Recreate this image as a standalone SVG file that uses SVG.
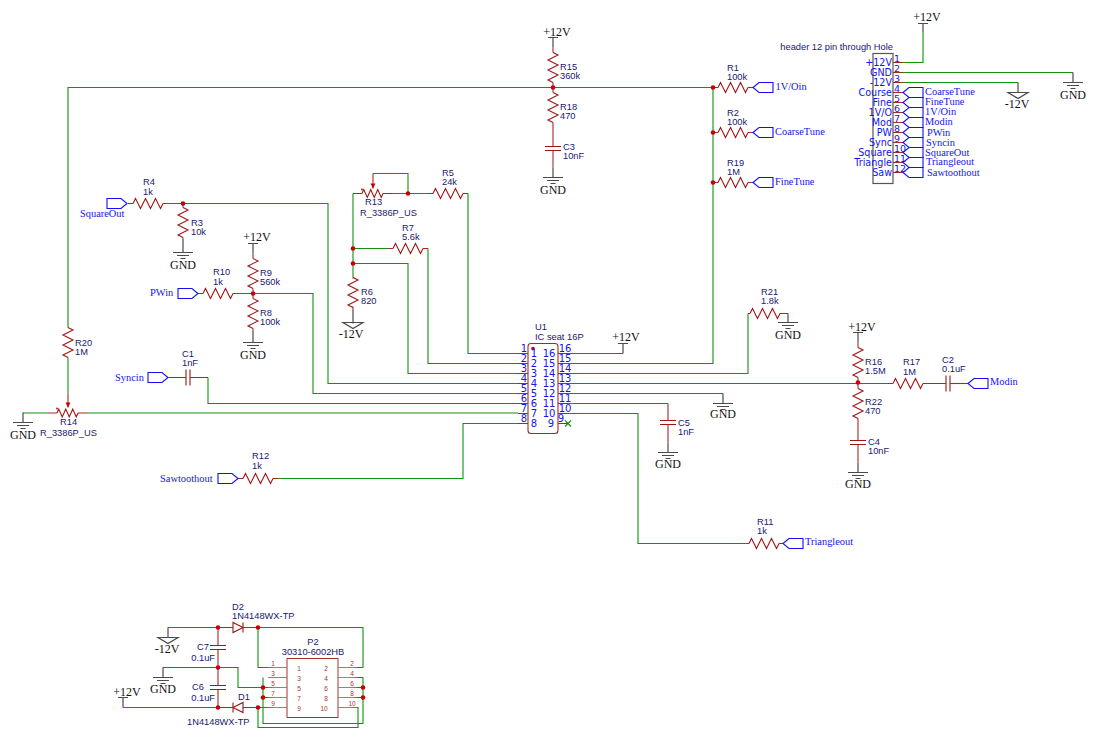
<svg xmlns="http://www.w3.org/2000/svg" xmlns:xlink="http://www.w3.org/1999/xlink" width="1096" height="738" viewBox="0 0 1096 738">
<style>
text{font-family:"Liberation Sans",Arial,sans-serif;transform:translateY(-.8px)}
.w{fill:none;stroke:#0f930f;stroke-width:1.1}
.l{fill:none;stroke:#a82828;stroke-width:1.1}
.z{fill:none;stroke:#a01414;stroke-width:1.1}
.k{fill:none;stroke:#4a4a4a;stroke-width:1.2}
.d{fill:#c80000;stroke:none}
.b{fill:none;stroke:#1010f0;stroke-width:1.1}
.t{font-size:9.300px;fill:#181870}
.s{font-family:"Liberation Serif","Times New Roman",serif;font-size:10.400px;fill:#1414f0}
.n{font-family:"Liberation Serif","Times New Roman",serif;font-size:12px;fill:#111;text-anchor:middle}
.u{font-family:"DejaVu Sans",sans-serif;font-size:10px;fill:#1414f0;text-anchor:middle}
.e{font-family:"DejaVu Sans",sans-serif;font-size:9.600px;fill:#1414f0;text-anchor:end}
.h{font-family:"DejaVu Sans",sans-serif;font-size:9.500px;fill:#1414f0}
.pn{font-size:6.500px;fill:#a83232;text-anchor:middle}
</style>
<defs>
<path id="rh" class="z" d="M0 0l2.500-5 5 10 5-10 5 10 5-10 5 10 2.500-5"/>
<path id="rv" class="z" d="M0 0l5 2.500-10 5 10 5-10 5 10 5-10 5 5 2.500"/>
<path id="rp" class="z" d="M0 0l1.750-4 3.500 8 3.500-8 3.500 8 3.500-8 3.500 8 1.750-4"/>
<g id="gnd"><path class="k" d="M-10 0h20M-6 3h12M-2.500 6h5"/></g>
<g id="vee"><path class="k" d="M-10 0h20l-10 6z"/></g>
<path id="pr" class="b" d="M0-5h14l6 5-6 5h-14z"/>
<path id="pl" class="b" d="M0 0l6-5h14v10h-14z"/>
<circle id="j" class="d" r="2.300"/>
<path id="cv" class="z" d="M-8 0h16M-8 4h16"/>
<path id="ch" class="z" d="M0-8v16M4-8v16"/>
</defs>

<g transform="translate(0 .5)">
<g id="connectors">
<path class="w" d="M68 327V87H713M713 87V363H568"/>
<path class="w" d="M68 357V393"/>
<path class="w" d="M23 412H48M87 412H518" transform="translate(0 .5)"/>
<path class="w" d="M167 203H328V383H518"/>
<path class="w" d="M236 293H313V393H518"/>
<path class="w" d="M208 377V403H518"/>
<path class="w" d="M278 478H463V423H518"/>
<path class="w" d="M518 353H468V193M393 193H428"/>
<path class="w" d="M373 173H408V193"/>
<path class="w" d="M353 193V277"/>
<path class="w" d="M353 248H388M428 248V363H518"/>
<path class="w" d="M353 263H408V373H518"/>
<path class="w" d="M568 353H623"/>
<path class="w" d="M568 373H748V313"/>
<path class="w" d="M568 383H888"/>
<path class="w" d="M568 393H723"/>
<path class="w" d="M568 403H668"/>
<path class="w" d="M568 413H638V543H748"/>
<path class="w" d="M565 420l6 6M571 420l-6 6"/>
<path class="w" d="M903 62H923V32"/>
<path class="w" d="M903 72H1073"/>
<path class="w" d="M903 82H1018"/>
<path class="w" d="M168 627H228M243 627H363V667H354M258 627V667H273"/>
<path class="w" d="M163 667H238V687H273M263 677V723H363V677H354M263 697H273M354 687H363M354 697H363"/>
<path class="w" d="M123 707H228M243 707H273M258 707V727H358V707H352"/>
</g>

<g id="U1">
<rect x="528" y="343" width="30" height="90" rx="3" fill="none" stroke="#a82828" stroke-width="1.1"/>
<circle class="d" cx="533" cy="348" r="1.800"/>
<path class="l" d="M518 353h10M518 363h10M518 373h10M518 383h10M518 393h10M518 403h10M518 413h10M518 423h10M558 353h10M558 363h10M558 373h10M558 383h10M558 393h10M558 403h10M558 413h10M558 423h10"/>
<text class="t" x="535" y="330">U1</text><text class="t" x="535" y="340">IC seat 16P</text>
<text class="u" x="524" y="352">1</text><text class="u" x="524" y="362">2</text><text class="u" x="524" y="372">3</text><text class="u" x="524" y="382">4</text><text class="u" x="524" y="392">5</text><text class="u" x="524" y="402">6</text><text class="u" x="524" y="412">7</text><text class="u" x="524" y="422">8</text>
<text class="u" x="534" y="357">1</text><text class="u" x="534" y="367">2</text><text class="u" x="534" y="377">3</text><text class="u" x="534" y="387">4</text><text class="u" x="534" y="397">5</text><text class="u" x="534" y="407">6</text><text class="u" x="534" y="417">7</text><text class="u" x="534" y="427">8</text>
<text class="u" x="549" y="357">16</text><text class="u" x="549" y="367">15</text><text class="u" x="549" y="377">14</text><text class="u" x="549" y="387">13</text><text class="u" x="549" y="397">12</text><text class="u" x="549" y="407">11</text><text class="u" x="549" y="417">10</text><text class="u" x="551" y="427">9</text>
<text class="u" x="565" y="352">16</text><text class="u" x="565" y="362">15</text><text class="u" x="565" y="372">14</text><text class="u" x="565" y="382">13</text><text class="u" x="565" y="392">12</text><text class="u" x="565" y="402">11</text><text class="u" x="565" y="412">10</text><text class="u" x="561" y="422">9</text>
</g>

<g id="J1">
<rect x="873" y="53" width="20" height="130" fill="none" stroke="#555" stroke-width="1.2"/>
<path class="l" d="M893 62h10M893 72h10M893 82h10M893 92h10M893 102h10M893 112h10M893 122h10M893 132h10M893 142h10M893 152h10M893 162h10M893 172h10"/>
<text class="t" x="893" y="50" text-anchor="end">header 12 pin through Hole</text>
<text class="e" x="892" y="66">+12V</text><text class="e" x="892" y="76">GND</text><text class="e" x="892" y="86">-12V</text><text class="e" x="892" y="96">Course</text><text class="e" x="892" y="106">Fine</text><text class="e" x="892" y="116">1V/O</text><text class="e" x="892" y="126">Mod</text><text class="e" x="892" y="136">PW</text><text class="e" x="892" y="146">Sync</text><text class="e" x="892" y="156">Square</text><text class="e" x="892" y="166">Triangle</text><text class="e" x="892" y="176">Saw</text>
<text class="h" x="894" y="62">1</text><text class="h" x="894" y="72">2</text><text class="h" x="894" y="82">3</text><text class="h" x="894" y="92">4</text><text class="h" x="894" y="102">5</text><text class="h" x="894" y="112">6</text><text class="h" x="894" y="122">7</text><text class="h" x="894" y="132">8</text><text class="h" x="894" y="142">9</text><text class="h" x="894" y="152">10</text><text class="h" x="894" y="162">11</text><text class="h" x="894" y="172">12</text>
<use xlink:href="#pl" x="903" y="92"/><use xlink:href="#pl" x="903" y="102"/><use xlink:href="#pl" x="903" y="112"/><use xlink:href="#pl" x="903" y="122"/><use xlink:href="#pl" x="903" y="132"/><use xlink:href="#pl" x="903" y="142"/><use xlink:href="#pl" x="903" y="152"/><use xlink:href="#pl" x="903" y="162"/><use xlink:href="#pl" x="903" y="172"/>
<text class="s" x="925" y="95">CoarseTune</text><text class="s" x="925" y="105">FineTune</text><text class="s" x="925" y="115">1V/Oin</text><text class="s" x="925" y="125">Modin</text><text class="s" x="927" y="136">PWin</text><text class="s" x="926" y="146">Syncin</text><text class="s" x="925" y="156">SquareOut</text><text class="s" x="926" y="165">Triangleout</text><text class="s" x="927" y="176">Sawtoothout</text>
</g>

<g id="PWR">
<path class="k" d="M923 32V23M918 23h10"/><text class="n" x="927" y="21">+12V</text>
<path class="k" d="M1073 72V82"/><use xlink:href="#gnd" x="1073" y="82"/><text class="n" x="1073" y="99">GND</text>
<path class="k" d="M1018 82V92"/><use xlink:href="#vee" x="1018" y="92"/><text class="n" x="1017" y="108">-12V</text>
<path class="k" d="M553 47V37M548 37h10"/><text class="n" x="557" y="36">+12V</text>
<path class="k" d="M553 167V177"/><use xlink:href="#gnd" x="553" y="177"/><text class="n" x="553" y="194">GND</text>
<path class="k" d="M183 238V252"/><use xlink:href="#gnd" x="183" y="252"/><text class="n" x="183" y="269">GND</text>
<path class="k" d="M253 253V243M248 243h10"/><text class="n" x="257" y="241">+12V</text>
<path class="k" d="M253 330V342"/><use xlink:href="#gnd" x="253" y="342"/><text class="n" x="253" y="359">GND</text>
<path class="k" d="M353 308V323"/><use xlink:href="#vee" x="353" y="322"/><text class="n" x="351" y="338">-12V</text>
<path class="k" d="M23 412V422"/><use xlink:href="#gnd" x="23" y="422"/><text class="n" x="23" y="439">GND</text>
<path class="k" d="M623 353V343M618 343h10"/><text class="n" x="626" y="341">+12V</text>
<path class="k" d="M723 393V403"/><use xlink:href="#gnd" x="723" y="403"/><text class="n" x="723" y="418">GND</text>
<path class="k" d="M668 442V452"/><use xlink:href="#gnd" x="668" y="452"/><text class="n" x="668" y="468">GND</text>
<path class="k" d="M788 313V322"/><use xlink:href="#gnd" x="788" y="322"/><text class="n" x="788" y="339">GND</text>
<path class="k" d="M858 342V332M853 332h10"/><text class="n" x="862" y="331">+12V</text>
<path class="k" d="M858 462V472"/><use xlink:href="#gnd" x="858" y="472"/><text class="n" x="858" y="488">GND</text>
<path class="k" d="M168 627V637"/><use xlink:href="#vee" x="168" y="637"/><text class="n" x="167" y="653">-12V</text>
<path class="k" d="M163 667V677"/><use xlink:href="#gnd" x="163" y="677"/><text class="n" x="163" y="693">GND</text>
<path class="k" d="M123 707V697M118 697h10"/><text class="n" x="127" y="696">+12V</text>
</g>

<g id="R15"><path class="l" d="M553 47v5M553 82v5"/><use xlink:href="#rv" x="553" y="52"/><text class="t" x="560" y="70">R15</text><text class="t" x="560" y="79">360k</text></g>
<g id="R18"><path class="l" d="M553 87v5M553 122v24"/><use xlink:href="#rv" x="553" y="92"/><text class="t" x="560" y="110">R18</text><text class="t" x="560" y="119">470</text></g>
<g id="C3"><path class="l" d="M553 150v17"/><use xlink:href="#cv" x="553" y="146"/><text class="t" x="563" y="150">C3</text><text class="t" x="563" y="159">10nF</text></g>
<g id="R1"><path class="l" d="M713 87h5M748 87h5"/><use xlink:href="#rh" x="718" y="87"/><text class="t" x="727" y="71">R1</text><text class="t" x="727" y="80">100k</text><use xlink:href="#pl" x="753" y="87"/><text class="s" x="775.500" y="90">1V/Oin</text></g>
<g id="R2"><path class="l" d="M713 132h5M748 132h5"/><use xlink:href="#rh" x="718" y="132"/><text class="t" x="727" y="116">R2</text><text class="t" x="727" y="125">100k</text><use xlink:href="#pl" x="753" y="132"/><text class="s" x="775" y="135">CoarseTune</text></g>
<g id="R19"><path class="l" d="M713 182h5M748 182h5"/><use xlink:href="#rh" x="718" y="182"/><text class="t" x="727" y="166">R19</text><text class="t" x="727" y="175">1M</text><use xlink:href="#pl" x="753" y="182"/><text class="s" x="775" y="185">FineTune</text></g>
<g id="R4"><path class="l" d="M128 203h5M163 203h4"/><use xlink:href="#rh" x="133" y="203"/><text class="t" x="143" y="185">R4</text><text class="t" x="143" y="195">1k</text><use xlink:href="#pr" x="107" y="203"/><text class="s" x="80" y="217">SquareOut</text></g>
<g id="R3"><path class="l" d="M183 203v4M183 237v1"/><use xlink:href="#rv" x="183" y="207"/><text class="t" x="191" y="226">R3</text><text class="t" x="191" y="235">10k</text></g>
<g id="R10"><path class="l" d="M198 293h5M233 293h3"/><use xlink:href="#rh" x="203" y="293"/><text class="t" x="213" y="275">R10</text><text class="t" x="213" y="285">1k</text><use xlink:href="#pr" x="178" y="293"/><text class="s" x="150" y="296">PWin</text></g>
<g id="R9"><path class="l" d="M253 253v5M253 288v5"/><use xlink:href="#rv" x="253" y="258"/><text class="t" x="260" y="276">R9</text><text class="t" x="260" y="285">560k</text></g>
<g id="R8"><path class="l" d="M253 293v5M253 328v2"/><use xlink:href="#rv" x="253" y="298"/><text class="t" x="260" y="316">R8</text><text class="t" x="260" y="325">100k</text></g>
<g id="R20"><use xlink:href="#rv" x="68" y="327"/><path class="l" d="M68 393v14"/><path class="d" d="M65.500 402h5l-2.500 5z"/><text class="t" x="75" y="346">R20</text><text class="t" x="75" y="355">1M</text></g>
<g id="R14"><path class="l" d="M48 412.500h9M78 412.500h9"/><use xlink:href="#rp" x="57" y="412.500"/><circle class="d" cx="57" cy="408" r=".9"/><text class="t" x="60" y="425">R14</text><text class="t" x="40" y="436">R_3386P_US</text></g>
<g id="C1"><use xlink:href="#pr" x="148" y="377"/><text class="s" x="115" y="381">Syncin</text><path class="l" d="M168 377h18M190 377h18"/><use xlink:href="#ch" x="186" y="377"/><text class="t" x="182" y="357">C1</text><text class="t" x="182" y="366">1nF</text></g>
<g id="R13"><path class="l" d="M362 193h-9M383 193h10M373 173v15"/><use xlink:href="#rp" x="362" y="193"/><circle class="d" cx="362" cy="189" r=".9"/><path class="d" d="M370.500 183h5l-2.500 5z"/><text class="t" x="365" y="205">R13</text><text class="t" x="360" y="216">R_3386P_US</text></g>
<g id="R5"><path class="l" d="M428 193h5M463 193h5"/><use xlink:href="#rh" x="433" y="193"/><text class="t" x="442" y="176">R5</text><text class="t" x="442" y="185">24k</text></g>
<g id="R7"><path class="l" d="M388 248h5M423 248h5"/><use xlink:href="#rh" x="393" y="248"/><text class="t" x="402" y="231">R7</text><text class="t" x="402" y="240">5.6k</text></g>
<g id="R6"><path class="l" d="M353 277v1M353 308v-2"/><use xlink:href="#rv" x="353" y="277"/><text class="t" x="361" y="295">R6</text><text class="t" x="361" y="304">820</text></g>
<g id="R12"><path class="l" d="M238 478h5M273 478h5"/><use xlink:href="#rh" x="243" y="478"/><use xlink:href="#pr" x="218" y="478"/><text class="t" x="252" y="459">R12</text><text class="t" x="252" y="469">1k</text><text class="s" x="160" y="482">Sawtoothout</text></g>
<g id="R21"><path class="l" d="M748 313h2M780 313h8"/><use xlink:href="#rh" x="750" y="313"/><text class="t" x="761" y="295">R21</text><text class="t" x="761" y="304">1.8k</text></g>
<g id="C5"><use xlink:href="#cv" x="668" y="420"/><path class="l" d="M668 403v17M668 424v18"/><text class="t" x="678" y="426">C5</text><text class="t" x="678" y="435">1nF</text></g>
<g id="R11"><path class="l" d="M748 543h1M779 543h4"/><use xlink:href="#rh" x="749" y="543"/><use xlink:href="#pl" x="783" y="543"/><text class="t" x="757" y="525">R11</text><text class="t" x="757" y="534">1k</text><text class="s" x="805" y="545">Triangleout</text></g>
<g id="R16"><path class="l" d="M858 342v5M858 377v5"/><use xlink:href="#rv" x="858" y="347"/><text class="t" x="865" y="365">R16</text><text class="t" x="865" y="374">1.5M</text></g>
<g id="R22"><path class="l" d="M858 382v6M858 418v22"/><use xlink:href="#rv" x="858" y="388"/><text class="t" x="865" y="405">R22</text><text class="t" x="865" y="414">470</text></g>
<g id="C4"><use xlink:href="#cv" x="858" y="440"/><path class="l" d="M858 444v18"/><text class="t" x="868" y="445">C4</text><text class="t" x="868" y="454">10nF</text></g>
<g id="R17"><path class="l" d="M888 383h5M923 383h23"/><use xlink:href="#rh" x="893" y="383"/><text class="t" x="903" y="365">R17</text><text class="t" x="903" y="375">1M</text></g>
<g id="C2"><use xlink:href="#ch" x="946" y="383"/><path class="l" d="M950 383h18"/><text class="t" x="942" y="363">C2</text><text class="t" x="942" y="372">0.1uF</text><use xlink:href="#pl" x="968" y="383"/><text class="s" x="990" y="385">Modin</text></g>

<g id="C7"><use xlink:href="#cv" x="218" y="645"/><path class="l" d="M218 627v18M218 649v18"/><text class="t" x="197" y="650">C7</text><text class="t" x="215" y="661" text-anchor="end">0.1uF</text></g>
<g id="C6"><use xlink:href="#cv" x="218" y="685"/><path class="l" d="M218 667v18M218 689v18"/><text class="t" x="192" y="690">C6</text><text class="t" x="215" y="701" text-anchor="end">0.1uF</text></g>
<g id="D2"><path class="z" d="M233 622v10l10-5zM243 622v10"/><path class="l" d="M218 627h15M243 627h15"/><text class="t" x="232" y="610">D2</text><text class="t" x="232" y="619">1N4148WX-TP</text></g>
<g id="D1"><path class="z" d="M243 702v10l-10-5zM233 702v10"/><path class="l" d="M218 707h15M243 707h15"/><text class="t" x="238" y="700">D1</text><text class="t" x="187" y="725">1N4148WX-TP</text></g>
<g id="P2">
<rect x="287" y="658" width="51" height="59" fill="none" stroke="#a83232" stroke-width="1"/>
<path style="fill:none;stroke:#b86060;stroke-width:.9" d="M268 667h19M268 677h19M268 687h19M268 697h19M268 707h19M338 667h19M338 677h19M338 687h19M338 697h19M338 707h19"/>
<text class="t" x="313" y="645" text-anchor="middle">P2</text><text class="t" x="313" y="655" text-anchor="middle">30310-6002HB</text>
<text class="pn" x="273" y="666">1</text><text class="pn" x="273" y="676">3</text><text class="pn" x="273" y="686">5</text><text class="pn" x="273" y="696">7</text><text class="pn" x="273" y="706">9</text>
<text class="pn" x="352" y="666">2</text><text class="pn" x="352" y="676">4</text><text class="pn" x="352" y="686">6</text><text class="pn" x="352" y="696">8</text><text class="pn" x="352" y="706">10</text>
<text class="pn" x="299" y="671">1</text><text class="pn" x="299" y="681">3</text><text class="pn" x="299" y="691">5</text><text class="pn" x="299" y="701">7</text><text class="pn" x="299" y="711">9</text>
<text class="pn" x="326" y="671">2</text><text class="pn" x="326" y="681">4</text><text class="pn" x="326" y="691">6</text><text class="pn" x="326" y="701">8</text><text class="pn" x="324" y="711">10</text>
</g>

<g id="junctions">
<use xlink:href="#j" x="553" y="87"/><use xlink:href="#j" x="713" y="87"/><use xlink:href="#j" x="713" y="132"/><use xlink:href="#j" x="713" y="182"/>
<use xlink:href="#j" x="183" y="203"/><use xlink:href="#j" x="253" y="293"/><use xlink:href="#j" x="408" y="193"/><use xlink:href="#j" x="353" y="248"/><use xlink:href="#j" x="353" y="263"/><use xlink:href="#j" x="858" y="382"/>
<use xlink:href="#j" x="218" y="627"/><use xlink:href="#j" x="258" y="627"/><use xlink:href="#j" x="218" y="667"/><use xlink:href="#j" x="218" y="707"/><use xlink:href="#j" x="258" y="707"/><use xlink:href="#j" x="263" y="687"/><use xlink:href="#j" x="263" y="697"/><use xlink:href="#j" x="363" y="687"/><use xlink:href="#j" x="363" y="697"/>
</g>
</g>
</svg>
